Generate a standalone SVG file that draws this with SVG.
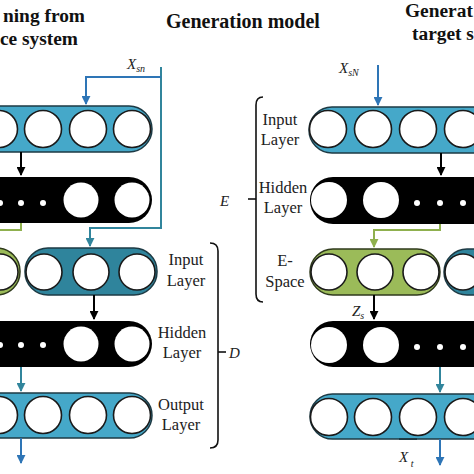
<svg xmlns="http://www.w3.org/2000/svg" width="474" height="474" viewBox="0 0 474 474">
<defs>
<style>
.title{font-family:"Liberation Serif","Times New Roman",serif;font-weight:bold;font-size:20px;fill:#111}
.tsm{font-size:19.4px}
.lbl{font-family:"Liberation Serif","Times New Roman",serif;font-size:16.5px;fill:#222}
.var{font-family:"Liberation Serif","Times New Roman",serif;font-style:italic;font-size:15px;fill:#222}
.sub{font-size:10px}
.blue{fill:#45a8c9;stroke:#1d3a44;stroke-width:1.5}
.teal{fill:#2f849c;stroke:#1d3a44;stroke-width:1.5}
.green{fill:#9bbb59;stroke:#2f3a1c;stroke-width:1.5}
.black{fill:#000}
.node{fill:#fff;stroke:#1a1a1a;stroke-width:1.6}
.hnode{fill:#fff}
.dot{fill:#fff}
.ln{fill:none;stroke-width:2}
.bk{stroke:#000}
.bl{stroke:#2e75b6}
.tl{stroke:#31859c}
.gr{stroke:#8fb04e}
.br{fill:none;stroke:#111;stroke-width:1.6}
</style>
<marker id="aBk" viewBox="0 0 10 10" refX="9" refY="5" markerWidth="4.5" markerHeight="4.5" orient="auto"><path d="M0,0 L10,5 L0,10 z" fill="#000"/></marker>
<marker id="aBl" viewBox="0 0 10 10" refX="9" refY="5" markerWidth="4.5" markerHeight="4.5" orient="auto"><path d="M0,0 L10,5 L0,10 z" fill="#2e75b6"/></marker>
<marker id="aTl" viewBox="0 0 10 10" refX="9" refY="5" markerWidth="4.5" markerHeight="4.5" orient="auto"><path d="M0,0 L10,5 L0,10 z" fill="#31859c"/></marker>
<marker id="aGr" viewBox="0 0 10 10" refX="9" refY="5" markerWidth="4.5" markerHeight="4.5" orient="auto"><path d="M0,0 L10,5 L0,10 z" fill="#8fb04e"/></marker>
</defs>
<rect width="474" height="474" fill="#fff"/>

<g id="titles">
<text class="title tsm" x="85" y="22" text-anchor="end">ning from</text>
<text class="title tsm" x="78" y="45" text-anchor="end">ce system</text>
<text class="title" x="166" y="28">Generation model</text>
<text class="title tsm" x="405" y="17">Generat</text>
<text class="title tsm" x="412" y="40">target s</text>
</g>

<!-- Left column -->
<g id="L-input">
<rect class="blue" x="-40" y="106" width="192" height="46" rx="23"/>
<circle class="node" cx="-1" cy="129" r="18.5"/>
<circle class="node" cx="43" cy="129" r="18.5"/>
<circle class="node" cx="88" cy="129" r="18.5"/>
<circle class="node" cx="132" cy="129" r="18.5"/>
</g>
<g id="L-hidden">
<rect class="black" x="-40" y="177" width="192" height="46" rx="23"/>
<circle class="hnode" cx="81" cy="200" r="17.5"/>
<circle class="hnode" cx="132" cy="200" r="17.5"/>
<circle class="dot" cx="0" cy="203" r="3"/>
<circle class="dot" cx="21" cy="203" r="3"/>
<circle class="dot" cx="43" cy="203" r="3"/>
</g>
<g id="L-espace">
<rect class="green" x="-110" y="248" width="130" height="47" rx="23"/>
<circle class="node" cx="0" cy="272" r="18"/>
</g>
<g id="L-dinput">
<rect class="teal" x="25" y="248" width="132" height="47" rx="23"/>
<circle class="node" cx="44" cy="272" r="18"/>
<circle class="node" cx="91" cy="272" r="18"/>
<circle class="node" cx="137" cy="272" r="18"/>
</g>
<g id="L-dhidden">
<rect class="black" x="-40" y="321" width="192" height="46" rx="23"/>
<circle class="hnode" cx="81" cy="344" r="17.5"/>
<circle class="hnode" cx="132" cy="344" r="17.5"/>
<circle class="dot" cx="0" cy="345" r="3"/>
<circle class="dot" cx="21" cy="345" r="3"/>
<circle class="dot" cx="43" cy="345" r="3"/>
</g>
<g id="L-output">
<rect class="blue" x="-40" y="393" width="192" height="45" rx="22.5"/>
<circle class="node" cx="-1" cy="415" r="18.5"/>
<circle class="node" cx="43" cy="415" r="18.5"/>
<circle class="node" cx="88" cy="415" r="18.5"/>
<circle class="node" cx="132" cy="415" r="18.5"/>
</g>

<!-- Right column -->
<g id="R-input">
<rect class="blue" x="309" y="107" width="200" height="46" rx="23"/>
<circle class="node" cx="328" cy="129" r="18.5"/>
<circle class="node" cx="373" cy="129" r="18.5"/>
<circle class="node" cx="418" cy="129" r="18.5"/>
<circle class="node" cx="463" cy="129" r="18.5"/>
</g>
<g id="R-hidden">
<rect class="black" x="310" y="177" width="200" height="47" rx="23"/>
<circle class="hnode" cx="329" cy="200" r="18"/>
<circle class="hnode" cx="381" cy="200" r="18"/>
<circle class="dot" cx="417" cy="203" r="3"/>
<circle class="dot" cx="440" cy="203" r="3"/>
<circle class="dot" cx="463" cy="203" r="3"/>
</g>
<g id="R-espace">
<rect class="green" x="310" y="249" width="130" height="46" rx="23"/>
<circle class="node" cx="329" cy="272" r="18"/>
<circle class="node" cx="375" cy="272" r="18"/>
<circle class="node" cx="421" cy="272" r="18"/>
</g>
<g id="R-dinput">
<rect class="teal" x="444" y="249" width="130" height="46" rx="23"/>
<circle class="node" cx="463" cy="272" r="18"/>
</g>
<g id="R-dhidden">
<rect class="black" x="310" y="321" width="200" height="46" rx="23"/>
<circle class="hnode" cx="329" cy="345" r="18"/>
<circle class="hnode" cx="381" cy="345" r="18"/>
<circle class="dot" cx="417" cy="347" r="3"/>
<circle class="dot" cx="440" cy="347" r="3"/>
<circle class="dot" cx="463" cy="347" r="3"/>
</g>
<g id="R-output">
<rect class="blue" x="310" y="394" width="200" height="45" rx="22.5"/>
<circle class="node" cx="329" cy="417" r="18.5"/>
<circle class="node" cx="373" cy="417" r="18.5"/>
<circle class="node" cx="418" cy="417" r="18.5"/>
<circle class="node" cx="463" cy="417" r="18.5"/>
</g>

<g id="connectors">
<path class="ln tl" d="M161,67 V228 H90 V246" marker-end="url(#aTl)"/>
<path class="ln bl" d="M161,77 H86 V104" marker-end="url(#aBl)"/>
<path class="ln bk" d="M21,152 V175" marker-end="url(#aBk)"/>
<path class="ln gr" d="M21,223 V230 H-5"/>
<path class="ln bk" d="M94,295 V319" marker-end="url(#aBk)"/>
<path class="ln tl" d="M21,367 V391" marker-end="url(#aTl)"/>
<path class="ln bl" d="M21,438 V463" marker-end="url(#aBl)"/>
<path class="ln bl" d="M378,65 V105" marker-end="url(#aBl)"/>
<path class="ln bk" d="M441,153 V175" marker-end="url(#aBk)"/>
<path class="ln gr" d="M440,224 V230 H374 V247" marker-end="url(#aGr)"/>
<path class="ln bk" d="M374,295 V319" marker-end="url(#aBk)"/>
<path class="ln tl" d="M440,367 V392" marker-end="url(#aTl)"/>
<path class="ln bl" d="M440,439 V465" marker-end="url(#aBl)"/>
<line x1="399" y1="439" x2="417" y2="439" stroke="#1d3a44" stroke-width="2"/>
</g>

<g id="brackets">
<path class="br" d="M210,243 Q218,243 218,251 V440 Q218,448 210,448"/>
<path class="br" d="M218,352 H226"/>
<path class="br" d="M263,97 Q256,97 256,105 V294 Q256,302 263,302"/>
<path class="br" d="M256,199 H248"/>
</g>

<g id="labels">
<text class="var" x="127" y="69">X<tspan class="sub" dy="3">sn</tspan></text>
<text class="var" x="339" y="73">X<tspan class="sub" dy="3">sN</tspan></text>
<text class="var" x="352" y="316">Z<tspan class="sub" dy="3">s</tspan></text>
<text class="var" x="399" y="462">X<tspan class="sub" dy="5"> t</tspan></text>
<text class="var" x="220" y="206">E</text>
<text class="var" x="229" y="358">D</text>
<text class="lbl" x="280" y="125" text-anchor="middle">Input</text>
<text class="lbl" x="280" y="145" text-anchor="middle">Layer</text>
<text class="lbl" x="283" y="193" text-anchor="middle">Hidden</text>
<text class="lbl" x="283" y="213" text-anchor="middle">Layer</text>
<text class="lbl" x="285" y="266" text-anchor="middle">E-</text>
<text class="lbl" x="285" y="287" text-anchor="middle">Space</text>
<text class="lbl" x="186" y="265" text-anchor="middle">Input</text>
<text class="lbl" x="186" y="286" text-anchor="middle">Layer</text>
<text class="lbl" x="182" y="338" text-anchor="middle">Hidden</text>
<text class="lbl" x="182" y="358" text-anchor="middle">Layer</text>
<text class="lbl" x="181" y="410" text-anchor="middle">Output</text>
<text class="lbl" x="181" y="430" text-anchor="middle">Layer</text>
</g>
</svg>
